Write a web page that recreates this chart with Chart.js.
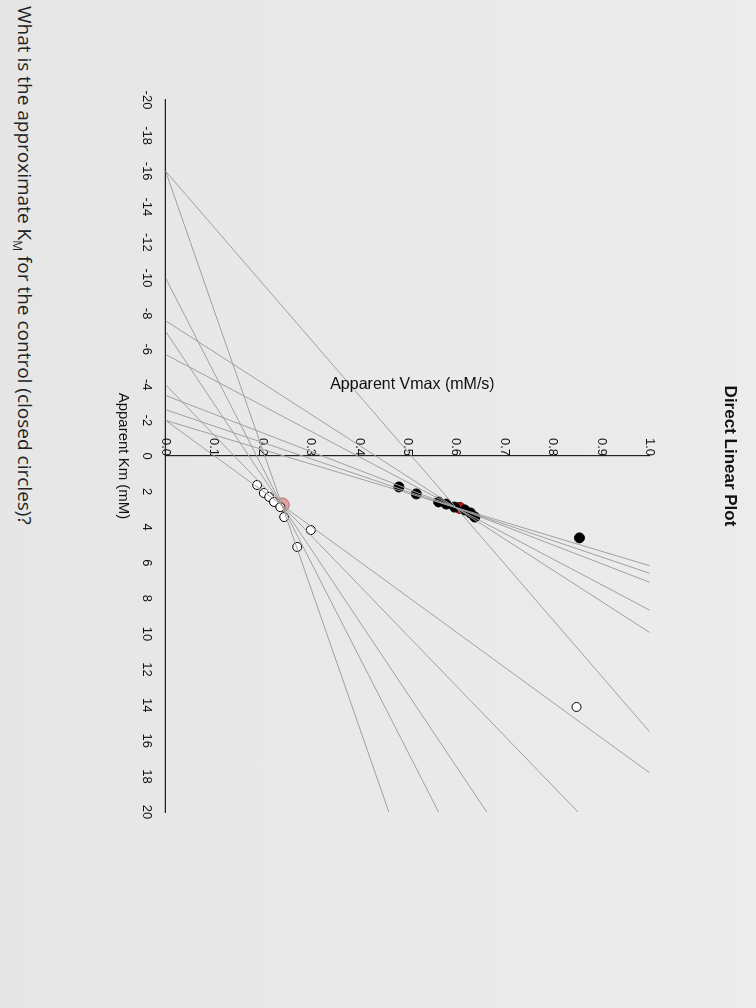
<!DOCTYPE html>
<html>
<head>
<meta charset="utf-8">
<script src="https://cdn.jsdelivr.net/npm/chart.js@4"></script>
<style>
  body { margin: 0; background: #e4e4e4; overflow: hidden; }
  #rot {
    position: absolute; left: 0; top: 0; width: 1008px; height: 756px;
    transform-origin: 0 0; transform: translateX(756px) rotate(90deg);
    background: linear-gradient(to bottom, #ececec, #e6e6e6);
  }
  #q { position: absolute; left: 6px; top: 718px; font: 19px "Open Sans", sans-serif; color: #222; }
</style>
</head>
<body>
<div id="rot">
  <canvas id="grafico" width="1008" height="718"></canvas>
  <div id="q">What is the approximate K<sub style="font-size:12px">M</sub> for the control (closed circles)?</div>
</div>
<script>
// closed circles (control)
const closedKm = [1.74, 2.13, 2.58, 2.7, 2.87, 3.03, 3.2, 3.43, 4.6];
const closedV  = [0.482, 0.518, 0.564, 0.58, 0.597, 0.618, 0.63, 0.639, 0.855];
// open circles
const openKm = [1.63, 2.08, 2.30, 2.58, 2.87, 3.43, 4.16, 5.11, 14.1];
const openV  = [0.189, 0.203, 0.214, 0.224, 0.237, 0.245, 0.30, 0.272, 0.849];
// medians
const closedMedian = [2.92, 0.608];
const openMedian = [2.75, 0.241];
// lines: [substrate S (Km intercept = -S), v (Vmax intercept)]
const closedLines = [[16, 0.508], [7.6, 0.434], [5.7, 0.397], [3.4, 0.324], [2.6, 0.283], [2.0, 0.245]];
const openLines = [[16, 0.205], [10, 0.188], [7, 0.172], [4, 0.142], [2, 0.101]];
const kmTicks = [-20, 20, 2];
const vTicks = [0, 1, 0.1];

function lineSet(list) {
  return list.map(([s, v]) => ({
    type: 'line',
    data: [{ x: -s, y: 0 }, { x: 20, y: v * (1 + 20 / s) }],
    borderColor: '#a0a0a0', borderWidth: 1, pointRadius: 0, fill: false
  }));
}
function pts(xs, ys) { return xs.map((x, i) => ({ x: x, y: ys[i] })); }

// y axis title, drawn inside the plot next to the axis
const vTitle = {
  id: 'vTitle',
  afterDraw(chart) {
    const c = chart.ctx;
    const px = chart.scales.x.getPixelForValue(-4);
    const py = chart.scales.y.getPixelForValue(0.51);
    c.save();
    c.translate(px, py);
    c.rotate(-Math.PI / 2);
    c.font = '16px "Liberation Sans", Arial';
    c.fillStyle = '#111';
    c.textAlign = 'center';
    c.textBaseline = 'middle';
    c.fillText('Apparent Vmax (mM/s)', 0, 0);
    c.restore();
  }
};

window.addEventListener('DOMContentLoaded', () => {
  const ctx = document.getElementById('grafico').getContext('2d');
  new Chart(ctx, {
    type: 'scatter',
    data: {
      datasets: [
        ...lineSet(closedLines),
        ...lineSet(openLines),
        { data: pts(openKm, openV), backgroundColor: '#fff', borderColor: '#000', borderWidth: 1, pointRadius: 4.5 },
        { data: pts(closedKm, closedV), backgroundColor: '#000', borderColor: '#000', pointRadius: 5 },
        { data: [{ x: openMedian[0], y: openMedian[1] }], backgroundColor: '#e0a0a0', borderColor: '#b07070', pointRadius: 7 },
        { data: [{ x: closedMedian[0], y: closedMedian[1] }], backgroundColor: '#c0180c', borderColor: '#600', pointRadius: 5.5 }
      ]
    },
    plugins: [vTitle],
    options: {
      responsive: false, animation: false,
      layout: { padding: { left: 100, right: 196, top: 0, bottom: 72 } },
      plugins: {
        legend: { display: false },
        tooltip: { enabled: false },
        title: { display: true, text: 'Direct Linear Plot', color: '#111',
                 font: { family: 'Arial, Liberation Sans', size: 17, weight: 'bold' }, padding: { top: 16, bottom: 70 } }
      },
      scales: {
        x: {
          type: 'linear', min: kmTicks[0], max: kmTicks[1],
          ticks: { stepSize: kmTicks[2], color: '#111', maxRotation: 0, minRotation: 0, autoSkip: false,
                   font: { size: 13, family: 'Liberation Sans' } },
          grid: { display: false, drawTicks: true, tickLength: 8, color: '#222' },
          border: { color: '#222', width: 1.2 },
          title: { display: true, text: 'Apparent Km (mM)', color: '#111', font: { size: 15, family: 'Liberation Sans' } }
        },
        y: {
          type: 'linear', min: vTicks[0], max: vTicks[1], position: { x: 0 },
          ticks: { stepSize: vTicks[2], color: '#111', font: { size: 13, family: 'Liberation Sans' },
                   callback: v => v.toFixed(1) },
          grid: { display: false, tickLength: 8 },
          border: { color: '#222', width: 1.2 },
          title: { display: false }
        }
      }
    }
  });
});
</script>
</body>
</html>
